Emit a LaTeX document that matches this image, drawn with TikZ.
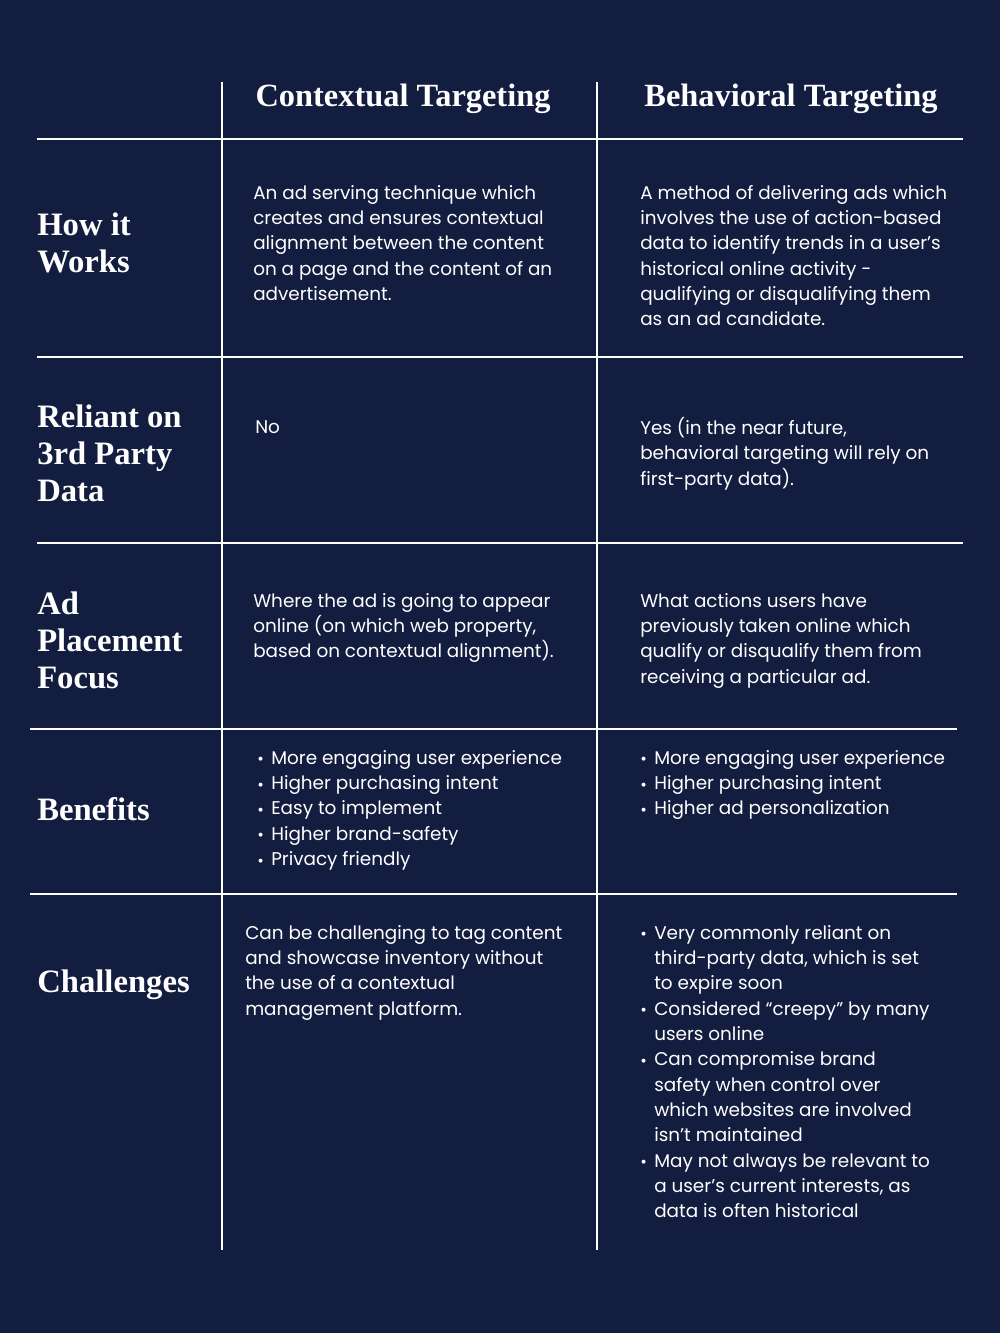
\documentclass[tikz,border=0pt]{standalone}
\usepackage{fontspec}
\setmainfont{Poppins}
\newfontfamily\headfont{Liberation Serif}
\definecolor{bg}{HTML}{131D40}
\begin{document}
\begin{tikzpicture}[x=0.75pt,y=-0.75pt,
  body/.style={anchor=north west,inner sep=0,align=left,text=white,font=\fontsize{13.8}{19}\selectfont},
  rowhead/.style={anchor=west,inner sep=0,align=left,text=white,font=\headfont\bfseries\fontsize{24.5}{27.75}\selectfont},
  colhead/.style={inner sep=0,text=white,font=\headfont\bfseries\fontsize{24.3}{27.75}\selectfont},
  grid/.style={draw=white,line width=1.4pt}]
\newcommand{\bl}{\makebox[10.5pt][l]{\raisebox{-0.5pt}{\large•}}}
\newcommand{\ind}{\hspace*{10.5pt}}
\fill[bg] (0,0) rectangle (1000,1333);
\useasboundingbox (0,0) rectangle (1000,1333);
\coordinate (v1t) at (222,82); \coordinate (v1b) at (222,1250);
\coordinate (v2t) at (597,82); \coordinate (v2b) at (597,1250);
\draw[grid] (v1t) -- (v1b); \draw[grid] (v2t) -- (v2b);
\coordinate (h1a) at (37,139); \coordinate (h1b) at (963,139);
\coordinate (h2a) at (37,357); \coordinate (h2b) at (963,357);
\coordinate (h3a) at (37,543); \coordinate (h3b) at (963,543);
\coordinate (h4a) at (30,729); \coordinate (h4b) at (957,729);
\coordinate (h5a) at (30,894); \coordinate (h5b) at (957,894);
\draw[grid] (h1a)--(h1b); \draw[grid] (h2a)--(h2b); \draw[grid] (h3a)--(h3b);
\draw[grid] (h4a)--(h4b); \draw[grid] (h5a)--(h5b);
\node[colhead] (c1) at (403,99) {Contextual Targeting};
\node[colhead] (c2) at (791,99) {Behavioral Targeting};
\node[rowhead] (r1) at (37,243) {How it\\Works};
\node[rowhead] (r2) at (37,453) {Reliant on\\3rd Party\\Data};
\node[rowhead] (r3) at (37,640) {Ad\\Placement\\Focus};
\node[rowhead] (r4) at (37,809) {Benefits};
\node[rowhead] (r5) at (37,985) {Challenges};
\node[body] (a1) at (253,185) {An ad serving technique which\\creates and ensures contextual\\alignment between the content\\on a page and the content of an\\advertisement.};
\node[body] (b1) at (640,185) {A method of delivering ads which\\involves the use of action-based\\data to identify trends in a user’s\\historical online activity -\\qualifying or disqualifying them\\as an ad candidate.};
\node[body] (a2) at (255,420) {No};
\node[body] (b2) at (640,417) {Yes (in the near future,\\behavioral targeting will rely on\\first-party data).};
\node[body] (a3) at (253,593) {Where the ad is going to appear\\online (on which web property,\\based on contextual alignment).};
\node[body] (b3) at (640,593) {What actions users have\\previously taken online which\\qualify or disqualify them from\\receiving a particular ad.};
\node[body] (a4) at (257,750) {\bl More engaging user experience\\\bl Higher purchasing intent\\\bl Easy to implement\\\bl Higher brand-safety\\\bl Privacy friendly};
\node[body] (b4) at (640,750) {\bl More engaging user experience\\\bl Higher purchasing intent\\\bl Higher ad personalization};
\node[body] (a5) at (245,925) {Can be challenging to tag content\\and showcase inventory without\\the use of a contextual\\management platform.};
\node[body] (b5) at (640,925) {\bl Very commonly reliant on\\\ind third-party data, which is set\\\ind to expire soon\\\bl Considered “creepy” by many\\\ind users online\\\bl Can compromise brand\\\ind safety when control over\\\ind which websites are involved\\\ind isn’t maintained\\\bl May not always be relevant to\\\ind a user’s current interests, as\\\ind data is often historical};
\end{tikzpicture}
\end{document}
